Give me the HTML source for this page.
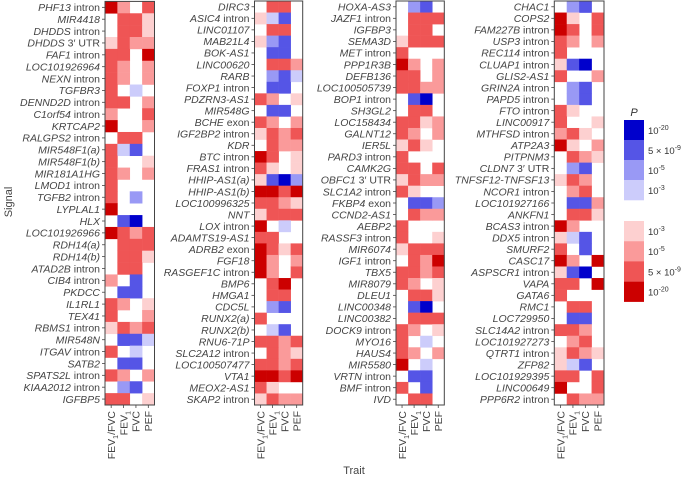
<!DOCTYPE html>
<html><head><meta charset="utf-8"><style>
html,body{margin:0;padding:0;background:#fff;}
svg{display:block;font-family:"Liberation Sans",sans-serif;}
</style></head><body>
<svg id="chart" width="685" height="478" viewBox="0 0 685 478"></svg>
<script>
const traits = ["FEV1/FVC","FEV1","FVC","PEF"];
const p1Names = ["PHF13| intron","MIR4418","DHDDS| intron","DHDDS| 3′ UTR","FAF1| intron","LOC101926964","NEXN| intron","TGFBR3","DENND2D| intron","C1orf54| intron","KRTCAP2","RALGPS2| intron","MIR548F1(a)","MIR548F1(b)","MIR181A1HG","LMOD1| intron","TGFB2| intron","LYPLAL1","HLX","LOC101926966","RDH14(a)","RDH14(b)","ATAD2B| intron","CIB4| intron","PKDCC","IL1RL1","TEX41","RBMS1| intron","MIR548N","ITGAV| intron","SATB2","SPATS2L| intron","KIAA2012| intron","IGFBP5"];
const p1Vals = ["DM0R","0RRL","0RRL","LRMM","RR0D","RM0M","RM0M","R0l0","RR0M","M00R","D00M","0RR0","RlB0","R00L","RM0M","R000","R0m0","D000","0BX0","DRMR","0RRR","0RRL","0RR0","M0B0","0BB0","RM0L","R00M","LRMR","0BBl","R0l0","0BB0","RM0M","0mB0","RR0L"];
const p2Names = ["DIRC3","ASIC4| intron","LINC01107","MAB21L4","BOK-AS1","LINC00620","RARB","FOXP1| intron","PDZRN3-AS1","MIR548G","BCHE| exon","IGF2BP2| intron","KDR","BTC| intron","FRAS1| intron","HHIP-AS1(a)","HHIP-AS1(b)","LOC100996325","NNT","LOX| intron","ADAMTS19-AS1","ADRB2| exon","FGF18","RASGEF1C| intron","BMP6","HMGA1","CDC5L","RUNX2(a)","RUNX2(b)","RNU6-71P","SLC2A12| intron","LOC100507477","VTA1","MEOX2-AS1","SKAP2| intron"];
const p2Vals = ["0RR0","LlB0","0RR0","LmB0","0BB0","0RRM","0mBl","0BB0","RM0L","0BB0","RM0M","LRMR","0RMM","DR0L","RL0L","LBXm","DDRD","RRML","LRRR","D0l0","RR00","DRLR","DM0M","DM0R","0RD0","0RR0","0mB0","R000","0lB0","RRMR","0RML","RRMR","DDRD","RL00","LRMM"];
const p3Names = ["HOXA-AS3","JAZF1| intron","IGFBP3","SEMA3D","MET| intron","PPP1R3B","DEFB136","LOC100505739","BOP1| intron","SH3GL2","LOC158434","GALNT12","IER5L","PARD3| intron","CAMK2G","OBFC1| 3′ UTR","SLC1A2| intron","FKBP4| exon","CCND2-AS1","AEBP2","RASSF3| intron","MIR6074","IGF1| intron","TBX5","MIR8079","DLEU1","LINC00348","LINC00382","DOCK9| intron","MYO16","HAUS4","MIR5580","VRTN| intron","BMF| intron","IVD"];
const p3Vals = ["0mB0","0RRR","0RR0","LRRR","R000","DM0M","RR0M","RRMM","0BX0","0RR0","RRLM","RM0M","LRL0","R000","RR0R","LRMM","RL00","0BBm","0RMM","R000","R00L","LRRR","0RMD","RRMR","RM0L","0RRL","0BX0","0RRR","RM0L","R0l0","RM0M","D0l0","0BB0","R0B0","0RR0"];
const p4Names = ["CHAC1","COPS2","FAM227B| intron","USP3| intron","REC114| intron","CLUAP1| intron","GLIS2-AS1","GRIN2A| intron","PAPD5| intron","FTO| intron","LINC00917","MTHFSD| intron","ATP2A3","PITPNM3","CLDN7| 3′ UTR","TNFSF12-TNFSF13","NCOR1| intron","LOC101927166","ANKFN1","BCAS3| intron","DDX5| intron","SMURF2","CASC17","ASPSCR1| intron","VAPA","GATA6","RMC1","LOC729950","SLC14A2| intron","LOC101927273","QTRT1| intron","ZFP82","LOC101929395","LINC00649","PPP6R2| intron"];
const p4Vals = ["0mB0","DL0R","DR0R","RM0M","R000","LBX0","R00M","0mB0","0mB0","RL00","R00L","MRL0","DL0M","0RML","0mB0","LRM0","0MR0","0BBM","0RRL","DM00","LlB0","R0B0","DM0D","LBX0","RR0D","R000","0RR0","0BB0","RRM0","0MR0","LRML","LlB0","RR0R","D00R","0RMM"];
const legendLabels = ["10^-20","5 × 10^-9","10^-5","10^-3","10^-3","10^-5","5 × 10^-9","10^-20"];
const legendCodes = ["X","B","m","l","L","M","R","D"];

const COL = {"D":"#cc0000","R":"#ef5555","M":"#fa9a9a","L":"#fdd0d0","0":"#ffffff","l":"#ccccfb","m":"#9999f5","B":"#5555e6","X":"#0000cc"};
const NS = "http://www.w3.org/2000/svg";
const svg = document.getElementById('chart');
function mk(tag, attrs, parent){const e=document.createElementNS(NS,tag);for(const k in attrs)e.setAttribute(k,attrs[k]);(parent||svg).appendChild(e);return e;}

const panels = [
 {names:p1Names, vals:p1Vals, left:105, right:154.5, top:1.4, bottom:405},
 {names:p2Names, vals:p2Vals, left:254.5, right:302.7, top:1, bottom:405},
 {names:p3Names, vals:p3Vals, left:396, right:444.3, top:1, bottom:405},
 {names:p4Names, vals:p4Vals, left:554.3, right:604, top:1, bottom:405}
];

panels.forEach((p, pi) => {
  const g = mk('g', {});
  
  
  const n = p.names.length;
  const rh = (p.bottom - p.top) / n;
  const cw = (p.right - p.left) / traits.length;
  const yOf = i => p.top + i * rh;
  const xOf = j => p.left + j * cw;
  p.vals.forEach((row, i) => {
    for (let j = 0; j < traits.length; j++) {
      const c = row[j];
      if (c === '0') continue;
      const r = mk('rect', {x: xOf(j), y: yOf(i), width: cw + 0.3, height: rh + 0.3, fill: COL[c]}, g);
      
      
    }
    const cy = yOf(i) + rh / 2;
    mk('line', {x1: p.left - 3, x2: p.left, y1: cy, y2: cy, stroke: '#444', 'stroke-width': 0.8}, g);
    const parts = p.names[i].split('|');
    const t = mk('text', {x: p.left - 5, y: cy + 3.8, 'text-anchor': 'end', 'font-size': '10.5', fill: '#444'}, g);
    
    
    const s1 = mk('tspan', {'font-style': 'italic'}, t); s1.textContent = parts[0];
    if (parts[1]) { const s2 = mk('tspan', {}, t); s2.textContent = parts[1]; }
  });
  const box = mk('rect', {x: p.left, y: p.top, width: p.right - p.left, height: p.bottom - p.top, fill: 'none', stroke: '#444', 'stroke-width': 1}, g);
  
  
  traits.forEach((tr, j) => {
    const cx = xOf(j) + cw / 2;
    mk('line', {x1: cx, x2: cx, y1: p.bottom, y2: p.bottom + 3, stroke: '#444', 'stroke-width': 0.8}, g);
    const t = mk('text', {transform: `translate(${cx + 3.8},${p.bottom + 6}) rotate(-90)`, 'text-anchor': 'end', 'font-size': '10.5', fill: '#444'}, g);
    
    
    if (tr.indexOf('FEV1') === 0) {
      const a = mk('tspan', {}, t); a.textContent = 'FEV';
      const b = mk('tspan', {'font-size': '7', dy: '3'}, t); b.textContent = '1';
      if (tr.length > 4) { const c = mk('tspan', {dy: '-3'}, t); c.textContent = '/FVC'; }
    } else t.textContent = tr;
  });
});

const xt = mk('text', {x: 354, y: 474, 'text-anchor': 'middle', 'font-size': '11', fill: '#444'});


xt.textContent = 'Trait';
const yt = mk('text', {transform: 'translate(12,202) rotate(-90)', 'text-anchor': 'middle', 'font-size': '11', fill: '#444'});


yt.textContent = 'Signal';

const lg = mk('g', {});


const lt = mk('text', {x: 634, y: 116, 'text-anchor': 'middle', 'font-size': '11', 'font-style': 'italic', fill: '#333'}, lg);


lt.textContent = 'P';
legendCodes.forEach((c, k) => {
  const y = k < 4 ? 120 + k * 20 : 221 + (k - 4) * 20.2;
  const r = mk('rect', {x: 624, y: y, width: 20, height: 20.3, fill: COL[c]}, lg);
  
  
  const parts = legendLabels[k].split('^');
  const t = mk('text', {x: 648, y: y + 14, 'font-size': '9.5', fill: '#333'}, lg);
  
  
  const a = mk('tspan', {}, t); a.textContent = parts[0];
  const b = mk('tspan', {'font-size': '7', dy: '-4'}, t); b.textContent = parts[1];
});
</script>
</body></html>
